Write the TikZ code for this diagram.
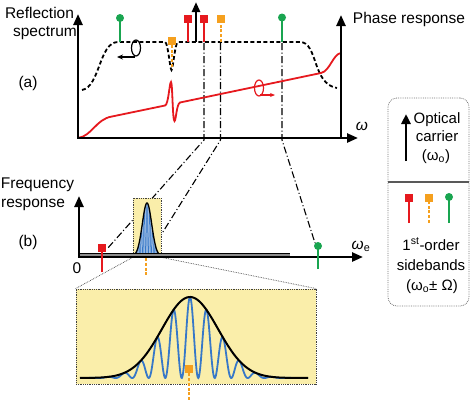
\documentclass[tikz,border=0pt]{standalone}
\usepackage{fontspec}
\setmainfont{Liberation Sans}
\usetikzlibrary{arrows.meta}
\definecolor{myred}{RGB}{230,25,30}
\definecolor{myorange}{RGB}{245,160,30}
\definecolor{mygreen}{RGB}{25,165,80}
\definecolor{myblue}{RGB}{55,120,200}
\definecolor{myyellow}{RGB}{250,238,170}
\begin{document}
\begin{tikzpicture}[x=1pt,y=-1pt,
  axis/.style={line width=2.4pt,-{Triangle[length=11pt,width=9pt]}},
  axis2/.style={line width=2.4pt,{Triangle[length=11pt,width=9pt]}-{Triangle[length=11pt,width=9pt]}},
  lbl/.style={font=\fontsize{15.5}{18}\selectfont,inner sep=0pt,anchor=base},
  leg/.style={font=\fontsize{15}{18}\selectfont,inner sep=0pt,anchor=base},
  ddot/.style={line width=1.1pt,dash pattern=on 7pt off 2.5pt on 1pt off 2.5pt},
  refl/.style={line width=1.8pt,dash pattern=on 4pt off 2.5pt},
  rstem/.style={line width=2pt,myred},
  gstem/.style={line width=2pt,mygreen},
  ostem/.style={line width=2pt,myorange,dash pattern=on 3pt off 1.8pt},
  rsq/.style={rectangle,fill=myred,minimum size=8pt,inner sep=0pt,solid},
  osq/.style={rectangle,fill=myorange,minimum size=8pt,inner sep=0pt,solid},
  gdot/.style={circle,fill=mygreen,minimum size=8pt,inner sep=0pt},
  ybox/.style={rectangle,fill=myyellow,draw=black!75,densely dotted,line width=0.8pt,inner sep=0pt},
  zoomln/.style={line width=0.7pt,densely dotted,black!75},
]
\useasboundingbox (0,0) rectangle (474,400);

% ---------- panel (a) ----------
\coordinate (aO) at (78,138);
\coordinate (aY) at (78,14);
\coordinate (aX) at (358,138);
\coordinate (aP0) at (341,138);
\coordinate (aP) at (341,15);

% dash-dot guide lines
\draw[ddot] (204,43) -- (204,140) -- (107,249);
\draw[ddot] (220.5,43) -- (220.5,140) -- (161,235);
\draw[ddot] (282,43) -- (282,140) -- (315,243);

% reflection spectrum (dashed)
\draw[refl] (82,90) .. controls (100,87) and (99,42) .. (118,42) -- (165,42)
  .. controls (168,42) and (170,70) .. (171.5,70) .. controls (173,70) and (175,42) .. (178,42)
  -- (300,42) .. controls (318,42) and (312,84) .. (337,88);

% phase response (red)
\draw[myred,line width=1.8pt] (78,138) .. controls (92,136) and (96,119) .. (112,116.5) -- (165,105.5)
  .. controls (168.5,105) and (169.5,82) .. (171,82) .. controls (172.5,82) and (172.5,121) .. (174.5,121)
  .. controls (176,121) and (176.5,104) .. (180,102.5) -- (321,73)
  .. controls (330,71) and (333,54) .. (341,53);

\draw[axis2] (aY) -- (aO) -- (aX);
\draw[axis] (aP0) -- (aP);

% rotation annotations
\draw[line width=1.2pt] (136,48) ellipse [x radius=4.5, y radius=8];
\draw[line width=1.2pt,-{Stealth[length=6pt,width=5pt]}] (135,57) -- (117,57);
\draw[myred,line width=1.2pt] (259,88) ellipse [x radius=4.5, y radius=8];
\draw[myred,line width=1.2pt,-{Stealth[length=5pt,width=4pt]}] (260,95) -- (275,95);

% markers (a)
\draw[gstem] (120,42) -- (120,18) node[gdot] (ga1) {};
\draw[ostem] (171.5,67) -- (171.5,41);
\node[osq] (oa1) at (171.5,41) {};
\draw[rstem] (187.5,42) -- (187.5,19) node[rsq] (ra1) {};
\draw[rstem] (204,42) -- (204,19) node[rsq] (ra2) {};
\draw[ostem] (220.5,42) -- (220.5,19);
\node[osq] (oa2) at (220.5,18.5) {};
\draw[gstem] (282,42) -- (282,17.5) node[gdot] (ga2) {};
\draw[line width=2.5pt,-{Triangle[length=10pt,width=8pt]}] (196,42) -- (196,2);

% labels (a)
\node[lbl] (t1) at (39.5,18) {Reflection};
\node[lbl] (t2) at (45,36) {spectrum};
\node[lbl] (t3) at (409,23) {Phase response};
\node[lbl] (ta) at (28,87) {(a)};
\node[lbl] (tw) at (362,130) {\textit{ω}};

% ---------- panel (b) ----------
\node[ybox,minimum width=28pt,minimum height=59pt] (sbox) at (147,227.5) {};
\fill[myblue!50] plot[domain=133:161,samples=80] (\x,{256-53*exp(-((\x-147)^2)/44.18)}) -- cycle;
\draw[myblue,line width=0.5pt] plot[domain=134:160,samples=240] (\x,{256-53*exp(-((\x-147)^2)/44.18)*(cos((\x-147)/2.8*180))^2});
\draw[line width=1.3pt] plot[domain=133:161,samples=80] (\x,{256-53*exp(-((\x-147)^2)/44.18)});

\node[ybox,minimum width=240pt,minimum height=95pt] (bbox) at (196,336.5) {};
\draw[zoomln] (sbox.south west) -- (bbox.north west);
\draw[zoomln] (sbox.south east) -- (bbox.north east);
\draw[myblue,line width=1.8pt] plot[domain=80:308,samples=500] (\x,{378-81*exp(-((\x-190)^2)/1568)*(cos((\x-190)/16.5*180))^2});
\draw[line width=2pt] plot[domain=80:308,samples=150] (\x,{378-81*exp(-((\x-190)^2)/1568)});
\node[osq] (ob) at (189,369) {};
\draw[ostem] (ob.south) -- (189,400);

\coordinate (bO) at (79,257);
\coordinate (bY) at (79,196);
\coordinate (bX) at (363,257);
\fill[black!45] (79,253.5) rectangle (290,257);
\draw[line width=0.8pt] (79,253.5) -- (290,253.5);
\draw[axis2] (bY) -- (bO) -- (bX);

\draw[rstem] (102,272) -- (102,247.5) node[rsq] (rb) {};
\draw[gstem] (318,269) -- (318,246) node[gdot] (gb) {};
\draw[ostem] (146,258) -- (146,277);

\node[lbl] (t4) at (37.5,188) {Frequency};
\node[lbl] (t5) at (33,207) {response};
\node[lbl] (tb) at (28,246) {(b)};
\node[lbl] (t0) at (77,273) {0};
\node[lbl] (twe) at (361,249) {\textit{ω}\textsubscript{e}};

% ---------- legend ----------
\node[draw=black!55,densely dotted,line width=0.8pt,rounded corners=9pt,minimum width=81pt,minimum height=208pt,inner sep=0pt] (legbox) at (428.5,202) {};
\draw[line width=2pt,black!65] (388,182) -- (469,182);
\draw[line width=2.5pt,-{Triangle[length=10pt,width=9pt]}] (406,161) -- (406,114);
\node[leg] (l1) at (437,123) {Optical};
\node[leg] (l2) at (437,141) {carrier};
\node[leg] (l3) at (436,160) {(ω\textsubscript{o})};
\draw[rstem] (409,223) -- (409,198) node[rsq] (lr) {};
\draw[ostem] (429,223) -- (429,201);
\node[osq] (lo) at (429,198) {};
\draw[gstem] (449,223) -- (449,197) node[gdot] (lg) {};
\node[leg] (l4) at (431,250) {1\textsuperscript{st}-order};
\node[leg] (l5) at (431,270) {sidebands};
\node[leg] (l6) at (432,290) {(ω\textsubscript{o}± Ω)};
\end{tikzpicture}
\end{document}
